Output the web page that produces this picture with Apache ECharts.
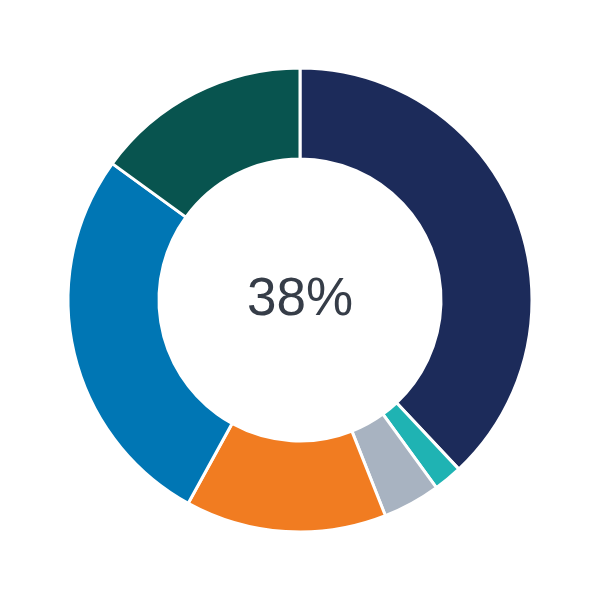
<!DOCTYPE html>
<html><head><meta charset="utf-8">
<script src="https://cdn.jsdelivr.net/npm/echarts@6/dist/echarts.min.js"></script>
<style>html,body{margin:0;padding:0;background:#fff}#c{width:600px;height:600px}</style>
</head><body><div id="c"></div>
<script>
const categories = ['A','B','C','D','E','F'];
const values = [38, 2, 4, 14, 27, 15];
const colors = ['#1c2b5a','#1fb3b3','#a8b3c1','#f17c21','#0076b4','#08544f'];
const centerLabel = '38%';
const chart = echarts.init(document.getElementById('c'));
chart.setOption({
  animation:false,
  title:{text:centerLabel,left:'center',top:'middle',textStyle:{fontSize:53,fontWeight:'normal',color:'#363d48',fontFamily:'Liberation Sans, Arial, sans-serif'}},
  series:[{
    type:'pie',
    center:['50%','50%'],
    radius:[141,232],
    startAngle:90,
    clockwise:true,
    label:{show:false},
    labelLine:{show:false},
    itemStyle:{borderColor:'#fff',borderWidth:3},
    data:categories.map((c,i)=>({name:c,value:values[i],itemStyle:{color:colors[i]}}))
  }]
});
</script></body></html>
